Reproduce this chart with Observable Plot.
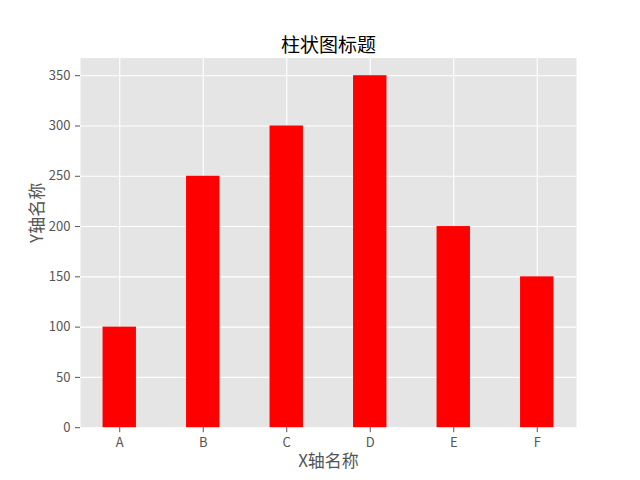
<!DOCTYPE html>
<html>
<head>
<meta charset="utf-8">
<script src="https://cdn.jsdelivr.net/npm/d3@7"></script>
<script src="https://cdn.jsdelivr.net/npm/@observablehq/plot@0.6"></script>
<style>
body { margin: 0; background: #fff; }
svg { display: block; }
</style>
</head>
<body>
<div id="chart"></div>
<script>
const categories = ["A", "B", "C", "D", "E", "F"];
const values = [100, 250, 300, 350, 200, 150];
const yTicks = [0, 50, 100, 150, 200, 250, 300, 350];
const title = "柱状图标题";
const xLabel = "X轴名称";
const yLabel = "Y轴名称";

const data = categories.map((c, i) => ({ i, c, v: values[i] }));
const idx = categories.map((_, i) => i);
const font = "'Noto Sans CJK SC', 'DejaVu Sans', sans-serif";

const chart = Plot.plot({
  width: 640,
  height: 480,
  marginLeft: 80,
  marginRight: 64,
  marginTop: 57.6,
  marginBottom: 52.8,
  style: { fontFamily: font, fontSize: "13px", color: "#555555", background: "#fff" },
  x: { type: "linear", domain: [-0.47, 5.47], axis: null },
  y: { domain: [0, 367.5], axis: null },
  marks: [
    Plot.frame({ fill: "#E5E5E5", stroke: null }),
    Plot.gridX(idx, { stroke: "#fff", strokeOpacity: 1, strokeWidth: 1.1 }),
    Plot.gridY(yTicks, { stroke: "#fff", strokeOpacity: 1, strokeWidth: 1.1 }),
    Plot.rectY(data, { x1: d => d.i - 0.2, x2: d => d.i + 0.2, y: "v", fill: "red" }),
    Plot.axisX(idx, { tickFormat: i => categories[i], tickSize: 5, tickPadding: 5, stroke: "#555555", fill: "#555555", fontSize: 13, label: null }),
    Plot.axisY(yTicks, { tickSize: 5, tickPadding: 5, stroke: "#555555", fill: "#555555", fontSize: 13, label: null }),
    Plot.text([xLabel], { frameAnchor: "bottom", lineAnchor: "top", dy: 27, fontSize: 17, fill: "#555555" }),
    Plot.text([yLabel], { frameAnchor: "left", rotate: -90, dx: -43, fontSize: 17, fill: "#555555" }),
    Plot.text([title], { frameAnchor: "top", lineAnchor: "bottom", dy: -6, fontSize: 19, fill: "#000" })
  ]
});
document.getElementById("chart").appendChild(chart);
</script>
</body>
</html>
